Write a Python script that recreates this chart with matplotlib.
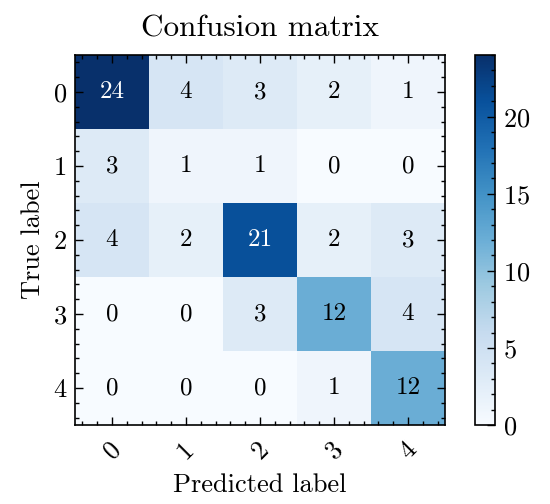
import numpy as np
import matplotlib
matplotlib.use("Agg")
import matplotlib.pyplot as plt
from matplotlib.ticker import AutoMinorLocator, MultipleLocator

plt.rcParams['font.family'] = ['cmr10', 'DejaVu Serif']
plt.rcParams['mathtext.fontset'] = 'cm'
plt.rcParams['axes.unicode_minus'] = False
plt.rcParams['axes.formatter.use_mathtext'] = True

labels = ['0', '1', '2', '3', '4']
cm = np.array([
    [24, 4, 3, 2, 1],
    [3, 1, 1, 0, 0],
    [4, 2, 21, 2, 3],
    [0, 0, 3, 12, 4],
    [0, 0, 0, 1, 12],
])

fig = plt.figure(figsize=(5.5, 5.04), dpi=100)
ax = fig.add_axes([75/550, 1 - 425/504, 370/550, 370/504])
cax = fig.add_axes([475/550, 1 - 425/504, 20/550, 370/504])

im = ax.imshow(cm, cmap='Blues', vmin=0, vmax=cm.max(), aspect='auto', interpolation='nearest')
thresh = cm.max() / 2
for i in range(cm.shape[0]):
    for j in range(cm.shape[1]):
        ax.text(j, i, str(cm[i, j]), ha='center', va='center', fontsize=18,
                color='white' if cm[i, j] > thresh else 'black')

ax.set_xticks(range(len(labels)))
ax.set_yticks(range(len(labels)))
ax.set_xticklabels(labels, rotation=45, fontsize=19)
ax.set_yticklabels(labels, fontsize=19)
ax.xaxis.set_minor_locator(AutoMinorLocator(5))
ax.yaxis.set_minor_locator(AutoMinorLocator(5))
ax.tick_params(which='both', direction='in', top=True, right=True, width=1.0)
ax.tick_params(which='major', length=6, pad=6)
ax.tick_params(axis='x', which='major', pad=9)
ax.tick_params(which='minor', length=3)
for s in ax.spines.values():
    s.set_linewidth(1.2)
ax.set_xlabel('Predicted label', fontsize=19, labelpad=7)
ax.set_ylabel('True label', fontsize=19, labelpad=6)
ax.set_title('Confusion matrix', fontsize=22.5, pad=13)

cb = fig.colorbar(im, cax=cax)
cb.set_ticks([0, 5, 10, 15, 20])
cb.ax.yaxis.set_minor_locator(MultipleLocator(1))
cb.ax.tick_params(which='both', direction='in', labelsize=19, width=1.0)
cb.ax.tick_params(which='major', length=6, pad=6)
cb.ax.tick_params(which='minor', length=3)
cb.outline.set_linewidth(1.2)

fig.savefig('out.png', dpi=100)
